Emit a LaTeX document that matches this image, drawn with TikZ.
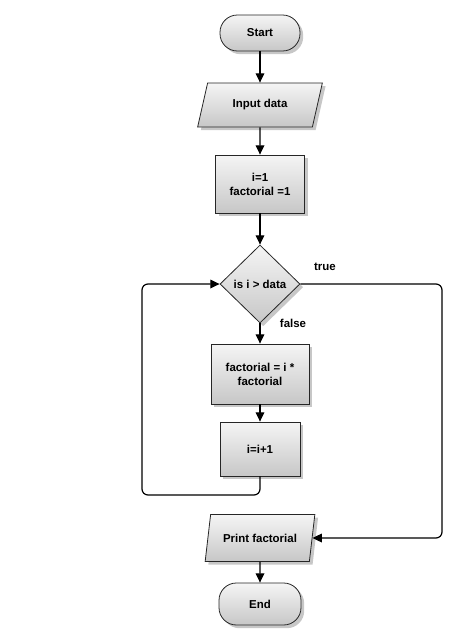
\documentclass[tikz,border=0pt]{standalone}
\usepackage{fontspec}
\setmainfont{Liberation Sans}
\usetikzlibrary{shapes.geometric,shadows,arrows.meta}

\newlength{\du}
\setlength{\du}{0.75pt}

\definecolor{boxtopcolor}{rgb}{0.960000, 0.960000, 0.960000}
\definecolor{boxbottomcolor}{rgb}{0.780000, 0.780000, 0.780000}
\definecolor{shadowcolor}{rgb}{0.560000, 0.560000, 0.560000}
\definecolor{dialinecolor}{rgb}{0.150000, 0.150000, 0.150000}

\tikzset{
  block/.style={draw=dialinecolor, line width=0.6pt, top color=boxtopcolor, bottom color=boxbottomcolor,
    drop shadow={shadow xshift=2.4pt, shadow yshift=-2.4pt, fill=shadowcolor},
    font=\fontsize{8.6}{10.5}\selectfont\bfseries, align=center, inner sep=0pt},
  terminal/.style={block, rectangle, rounded corners=13pt, minimum width=80\du, minimum height=36\du},
  iobox/.style={block, trapezium, trapezium left angle=64, trapezium right angle=116, trapezium stretches=true},
  process/.style={block, rectangle},
  decision/.style={block, diamond, minimum width=80\du, minimum height=78\du},
  flowlabel/.style={font=\fontsize{8.6}{10.5}\selectfont\bfseries, inner sep=0pt},
  flow/.style={draw=black, line width=0.9pt, -{Triangle[length=7pt,width=6.5pt]}}
}

\begin{document}
\begin{tikzpicture}[x=\du, y=-\du]
\useasboundingbox (0,0) rectangle (457,640);

% blocks
\node[terminal] (start) at (260,33) {Start};
\node[iobox, minimum width=125\du, minimum height=44\du] (input) at (260,105) {Input data};
\node[process, minimum width=89\du, minimum height=58\du] (init) at (260,184) {i=1\\factorial =1};
\node[decision] (cond) at (260,284) {is i > data};
\node[process, minimum width=98\du, minimum height=60\du] (mult) at (260,374) {factorial = i *\\factorial};
\node[process, minimum width=80\du, minimum height=54\du] (inc) at (260,449) {i=i+1};
\node[iobox, minimum width=110\du, minimum height=47\du] (print) at (260,538) {Print factorial};
\node[terminal, minimum width=82\du, minimum height=42\du] (end) at (260,604) {End};

\node[flowlabel] (truelbl) at (325,267) {true};
\node[flowlabel] (falselbl) at (293,323) {false};

\coordinate (loopturn) at (142,495);
\coordinate (trueturn) at (442,285);

% connectors
\draw[flow] (start) -- (input);
\draw[flow] (input) -- (init);
\draw[flow] (init) -- (cond);
\draw[flow] (cond) -- (mult);
\draw[flow] (mult) -- (inc);
\draw[flow, rounded corners=6\du] (inc.south) |- (loopturn) |- (cond.west);
\draw[flow, rounded corners=6\du] (cond.east) -| (trueturn |- print.east) -- (print.east);
\draw[flow] (print) -- (end);
\end{tikzpicture}
\end{document}
